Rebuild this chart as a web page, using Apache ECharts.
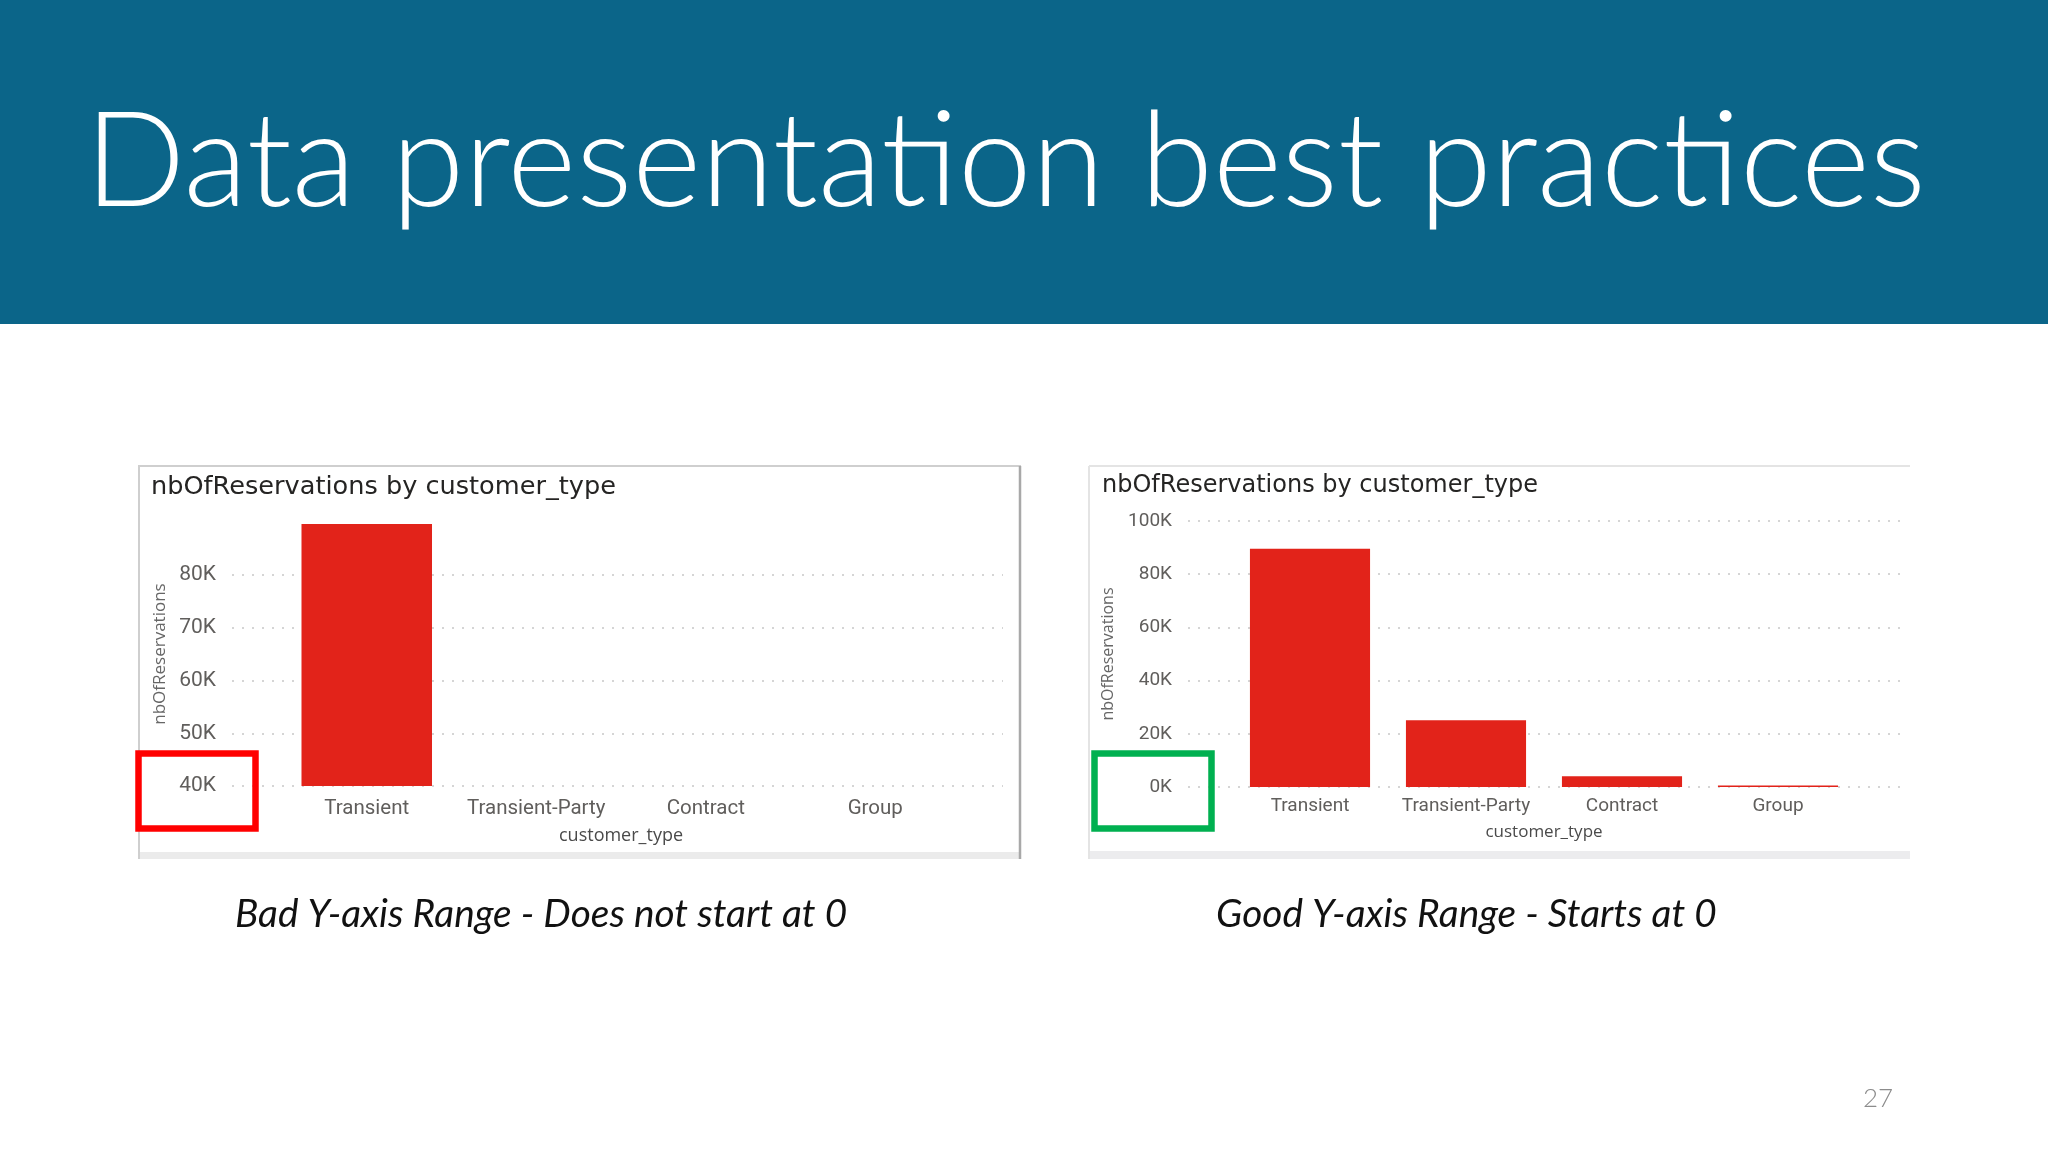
<!DOCTYPE html>
<html>
<head>
<meta charset="utf-8">
<script src="https://cdn.jsdelivr.net/npm/echarts@6/dist/echarts.min.js"></script>
<style>
html,body{margin:0;padding:0;background:#ffffff;overflow:hidden}
#c{width:2048px;height:1152px}
</style>
</head>
<body>
<div id="c"></div>
<script>
// ---------- data ----------
const slideTitle = 'Data presentation best practices';
const chartTitle = 'nbOfReservations by customer_type';
const yAxisName = 'nbOfReservations';
const xAxisName = 'customer_type';
const categories = ['Transient', 'Transient-Party', 'Contract', 'Group'];
const reservations = [89613, 25124, 4076, 577];
const badTicks = [40000, 50000, 60000, 70000, 80000];
const goodTicks = [0, 20000, 40000, 60000, 80000, 100000];
const badCaption = 'Bad Y-axis Range - Does not start at 0';
const goodCaption = 'Good Y-axis Range - Starts at 0';
const pageNumber = '27';

// ---------- styles ----------
const LBL = "Roboto, sans-serif";
const OPEN = "'Open Sans', sans-serif";
const BAR = '#E2231A';
const LABEL = '#605E5C';
const GRIDLINE = {type: [2, 8], color: '#c8c8c8', width: 1.5};
const kfmt = v => (v / 1000) + 'K';

const badStep = badTicks[1] - badTicks[0];
const goodStep = goodTicks[1] - goodTicks[0];

const chart = echarts.init(document.getElementById('c'), null, {renderer: 'canvas'});

function catAxis(grid, fs, margin, gap, nameFs) {
  return {
    gridIndex: grid, type: 'category', data: categories,
    axisLine: {show: false}, axisTick: {show: false},
    axisLabel: {interval: 0, margin: margin, fontSize: fs, color: LABEL, fontFamily: LBL},
    name: xAxisName, nameLocation: 'middle', nameGap: gap,
    nameTextStyle: {fontSize: nameFs, color: '#4a4a4a', fontFamily: OPEN}
  };
}

function txt(text, x, y, font, fill, align) {
  return {type: 'text', z: 10, style: {text: text, x: x, y: y, fill: fill, font: font,
    textAlign: align || 'left', align: align || 'left', textVerticalAlign: 'middle', verticalAlign: 'middle'}};
}

const option = {
  animation: false,
  backgroundColor: '#ffffff',
  grid: [
    {left: 232, top: 575, width: 771, height: 211},
    {left: 282, top: 522, width: 678, height: 264},
    {left: 1188, top: 521, width: 712, height: 266},
    {left: 1232, top: 521, width: 624, height: 266}
  ],
  xAxis: [
    {gridIndex: 0, type: 'value', show: false, min: 0, max: 1},
    catAxis(1, 20.5, 12, 41, 18),
    {gridIndex: 2, type: 'value', show: false, min: 0, max: 1},
    catAxis(3, 19, 10, 37, 17)
  ],
  yAxis: [
    {
      gridIndex: 0, type: 'value',
      min: badTicks[0], max: badTicks[badTicks.length - 1], interval: badStep,
      axisLine: {show: false}, axisTick: {show: false},
      axisLabel: {formatter: kfmt, margin: 16, fontSize: 21, color: LABEL, fontFamily: LBL},
      splitLine: {show: true, lineStyle: GRIDLINE}
    },
    {
      gridIndex: 1, type: 'value',
      min: badTicks[0], max: badTicks[badTicks.length - 1] + badStep, interval: badStep,
      axisLine: {show: false}, axisTick: {show: false}, axisLabel: {show: false},
      splitLine: {show: false},
      name: yAxisName, nameLocation: 'middle', nameRotate: 90, nameGap: 113,
      nameTextStyle: {fontSize: 17, color: '#666666', fontFamily: OPEN}
    },
    {
      gridIndex: 2, type: 'value',
      min: goodTicks[0], max: goodTicks[goodTicks.length - 1], interval: goodStep,
      axisLine: {show: false}, axisTick: {show: false},
      axisLabel: {formatter: kfmt, margin: 16, fontSize: 19, color: LABEL, fontFamily: LBL},
      splitLine: {show: true, lineStyle: GRIDLINE}
    },
    {
      gridIndex: 3, type: 'value',
      min: goodTicks[0], max: goodTicks[goodTicks.length - 1], interval: goodStep,
      axisLine: {show: false}, axisTick: {show: false}, axisLabel: {show: false},
      splitLine: {show: false},
      name: yAxisName, nameLocation: 'middle', nameRotate: 90, nameGap: 116,
      nameTextStyle: {fontSize: 16, color: '#666666', fontFamily: OPEN}
    }
  ],
  series: [
    {type: 'bar', xAxisIndex: 1, yAxisIndex: 1, data: reservations, barCategoryGap: '23%',
     clip: true, silent: true, itemStyle: {color: BAR}},
    {type: 'bar', xAxisIndex: 3, yAxisIndex: 3, data: reservations, barCategoryGap: '23%',
     clip: true, silent: true, itemStyle: {color: BAR}}
  ],
  graphic: [
    // header band
    {type: 'rect', z: -20, shape: {x: 0, y: 0, width: 2048, height: 324}, style: {fill: '#0B6589'}},
    txt(slideTitle, 85, 163, "300 132px Lato, 'Open Sans', sans-serif", '#ffffff'),
    // left panel
    {type: 'rect', z: -10, shape: {x: 139, y: 466, width: 881, height: 392}, style: {fill: '#ffffff', stroke: '#cfcfcf', lineWidth: 2}},
    {type: 'rect', z: -9, shape: {x: 140, y: 852, width: 879, height: 7}, style: {fill: '#ebebeb'}},
    {type: 'line', z: -8, shape: {x1: 1020, y1: 466, x2: 1020, y2: 859}, style: {stroke: '#a8a8a8', lineWidth: 2.5}},
    // right panel (top and left edges only, bottom band)
    {type: 'rect', z: -10, shape: {x: 1089, y: 466, width: 821, height: 386}, style: {fill: '#ffffff'}},
    {type: 'line', z: -8, shape: {x1: 1089, y1: 466, x2: 1910, y2: 466}, style: {stroke: '#e4e4e4', lineWidth: 2}},
    {type: 'line', z: -8, shape: {x1: 1089, y1: 466, x2: 1089, y2: 859}, style: {stroke: '#e4e4e4', lineWidth: 2}},
    {type: 'rect', z: -9, shape: {x: 1088, y: 851, width: 822, height: 8}, style: {fill: '#ececee'}},
    // chart titles
    txt(chartTitle, 151, 487, "25.6px 'DejaVu Sans', sans-serif", '#252423'),
    txt(chartTitle, 1102, 486, "24px 'DejaVu Sans', sans-serif", '#252423'),
    // highlight boxes
    {type: 'rect', z: 50, shape: {x: 138.5, y: 753.5, width: 117, height: 75}, style: {fill: 'none', stroke: '#FF0000', lineWidth: 6.5}},
    {type: 'rect', z: 50, shape: {x: 1094.5, y: 753.5, width: 117, height: 75}, style: {fill: 'none', stroke: '#00B050', lineWidth: 6.5}},
    // captions
    txt(badCaption, 235, 914, "italic 38.8px Lato, sans-serif", '#111111'),
    txt(goodCaption, 1216, 914, "italic 38.8px Lato, sans-serif", '#111111'),
    // page number
    txt(pageNumber, 1878, 1099, "300 26px Lato, sans-serif", '#8c8c8c', 'center')
  ]
};
chart.setOption(option);
</script>
</body>
</html>
